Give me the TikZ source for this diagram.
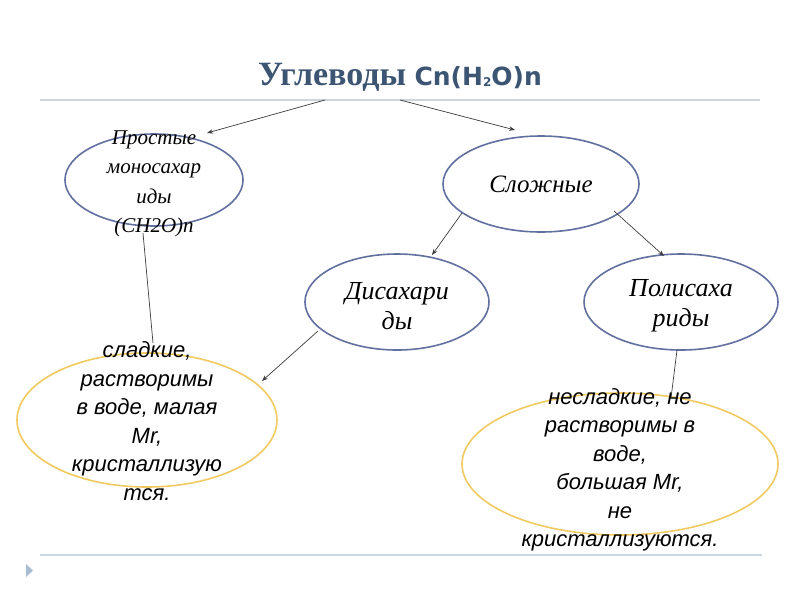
\documentclass[tikz,border=0pt]{standalone}
\usepackage{fontspec}
\setmainfont{Liberation Serif}
\setsansfont{Liberation Sans}
\newfontfamily\dvsans{DejaVu Sans}
\usetikzlibrary{shapes.geometric,arrows.meta,calc}
\definecolor{titlecol}{RGB}{59,85,115}
\definecolor{rulecol}{RGB}{201,213,224}
\definecolor{tricol}{RGB}{169,190,211}
\definecolor{bluecol}{RGB}{98,112,160}
\definecolor{yelcol}{RGB}{240,202,96}
\definecolor{linecol}{RGB}{60,60,60}
\tikzset{
  blueell/.style={ellipse, draw=bluecol, line width=1.6pt, inner sep=0pt},
  yelell/.style={ellipse, draw=yelcol, line width=1.6pt, inner sep=0pt},
  serlab/.style={align=center, inner sep=0pt, font=\itshape},
  sanslab/.style={align=center, inner sep=0pt, font={\sffamily\itshape\fontsize{22}{28.5}\selectfont}},
  arr/.style={draw=linecol, line width=0.7pt, -{Stealth[length=6pt,width=4.5pt]}},
  ln/.style={draw=linecol, line width=0.7pt},
  rulel/.style={draw=rulecol, line width=2pt}
}
\begin{document}
\begin{tikzpicture}[x=1pt,y=-1pt]
\useasboundingbox (0,0) rectangle (800,600);
\fill[white] (0,0) rectangle (800,600);
% title
\node[inner sep=0pt, text=titlecol, anchor=base] (title) at (400,85)
  {\fontsize{34}{38}\selectfont\bfseries Углеводы {\dvsans\fontsize{25}{30}\selectfont\bfseries Cn(H\raisebox{-1pt}{\fontsize{12}{13}\selectfont 2}O)n}};
% rules
\coordinate (r1a) at (40,100);
\coordinate (r1b) at (760,100);
\draw[rulel] (r1a) -- (r1b);
\coordinate (r2a) at (40,555);
\coordinate (r2b) at (762,555);
\draw[rulel] (r2a) -- (r2b);
\fill[tricol] (26,564) -- (33,570.5) -- (26,577) -- cycle;
% ellipses
\node[blueell, minimum width=178pt, minimum height=92pt] (p) at (154,180) {};
\node[blueell, minimum width=196pt, minimum height=96pt] (s) at (541,184) {};
\node[blueell, minimum width=184pt, minimum height=96pt] (d) at (397,302) {};
\node[blueell, minimum width=194pt, minimum height=96pt] (pl) at (681,302) {};
\node[yelell, minimum width=260pt, minimum height=134pt] (y1) at (147,420) {};
\node[yelell, minimum width=316pt, minimum height=142pt] (y2) at (620,464) {};
% texts
\node[serlab, font={\itshape\fontsize{21}{29.5}\selectfont}] (pt) at (154,184) {Простые\\моносахар\\иды\\(CH2O)n};
\node[serlab, font={\itshape\fontsize{25}{30}\selectfont}] (st) at (541,184) {Сложные};
\node[serlab, font={\itshape\fontsize{26}{30}\selectfont}] (dt) at (397,306) {Дисахари\\ды};
\node[serlab, font={\itshape\fontsize{26}{30}\selectfont}] (plt) at (681,306) {Полисаха\\риды};
\node[sanslab] (y1t) at (147,421) {сладкие,\\растворимы\\в воде, малая\\Mr,\\кристаллизую\\тся.};
\node[sanslab] (y2t) at (620,470) {несладкие, не\\растворимы в\\воде,\\большая Mr,\\не\\кристаллизуются.};
% connectors
\coordinate (t1) at (325,100);
\coordinate (t2) at (400,100);
\draw[arr] (t1) -- ($(p.center)+(53,-47)$);
\draw[arr] (t2) -- ($(s.center)+(-26,-54)$);
\draw[arr] ($(s.center)+(-79,29)$) -- ($(d.center)+(35,-47)$);
\draw[arr] ($(s.center)+(73,27)$) -- ($(pl.center)+(-17,-46)$);
\draw[ln] ($(p.center)+(-11,53)$) -- ($(y1.center)+(6,-77)$);
\draw[arr] ($(d.center)+(-79,29)$) -- ($(y1.center)+(115,-39)$);
\draw[ln] ($(pl.center)+(-4,48)$) -- ($(y2.center)+(51,-66)$);
\end{tikzpicture}
\end{document}
